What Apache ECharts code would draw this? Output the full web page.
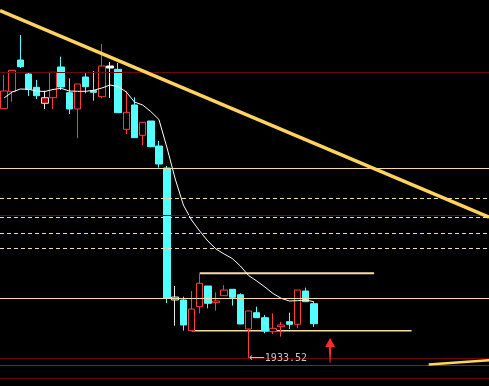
<!DOCTYPE html>
<html><head><meta charset="utf-8">
<script src="https://cdn.jsdelivr.net/npm/echarts@6/dist/echarts.min.js"></script>
<style>html,body{margin:0;padding:0;background:#000;}#c{width:489px;height:386px;}</style>
</head><body><div id="c"></div>
<script>
// ---- data ----
const slotCount = 60;
const categories = Array.from({length: slotCount}, (_, i) => 'K' + (i + 1));
const opens  = [2058.15,2066.65,2082.5,2075.5,2068.85,2063.65,2063.65,2079.0,2066.15,2058.0,2074.0,2067.15,2064.15,2079.5,2077.85,2047.85,2060.0,2044.85,2052.0,2039.5,2028.5,1964.0,1962.5,1947.15,1959.15,1969.5,1961.15,1964.65,1967.85,1965.15,1948.0,1956.15,1953.65,1946.65,1949.15,1951.65,1950.35,1967.0,1960.65];
const closes = [2067.0,2077.35,2079.15,2067.85,2064.65,2060.85,2076.35,2069.0,2058.0,2070.5,2069.15,2066.35,2079.5,2078.5,2056.15,2056.35,2043.65,2051.35,2039.15,2030.5,1963.5,1962.5,1950.0,1958.0,1970.85,1960.85,1962.0,1967.5,1963.85,1950.5,1957.0,1953.65,1947.0,1948.35,1950.0,1950.35,1967.5,1961.65,1950.65];
const lows   = [2058.0,2061.65,2078.5,2064.5,2063.0,2058.0,2058.0,2067.5,2055.5,2043.5,2065.85,2062.15,2063.35,2063.5,2056.15,2045.5,2043.65,2040.0,2038.85,2028.65,1961.0,1949.65,1947.15,1947.15,1955.85,1958.35,1957.15,1964.65,1959.65,1950.5,1933.52,1953.65,1945.85,1945.5,1944.15,1948.0,1948.35,1961.65,1949.0];
const highs  = [2075.0,2077.5,2095.0,2076.5,2072.5,2067.15,2076.35,2084.15,2073.35,2070.5,2075.85,2077.0,2090.5,2081.5,2081.0,2067.15,2063.85,2051.35,2052.0,2042.0,2029.5,1969.5,1964.15,1967.0,1975.85,1969.5,1966.35,1970.0,1967.85,1965.85,1957.0,1959.15,1955.0,1955.85,1951.65,1956.15,1967.5,1968.65,1961.65];
const maLine = [2063.5,2066.5,2068.0,2067.85,2067.0,2066.75,2067.75,2068.35,2067.0,2066.85,2066.85,2067.35,2068.5,2070.0,2069.25,2066.5,2061.5,2060.0,2056.75,2052.75,2038.5,2023.0,2010.0,2002.5,1997.0,1992.0,1988.0,1985.5,1983.25,1979.5,1974.75,1972.0,1969.0,1965.75,1963.35,1962.0,1962.15,1962.5,1961.65];
const darkMarks = [5, 21];      // dark-red bodies with white frame
const whiteMarks = [13];        // white doji
const lowIndex = 30;            // candle of the marked low
const signalIndex = 40;         // red arrow slot
const signalPrice = 1937.25;
const mainTrend = [[-0.5, 2107.2], [59.5, 2003.9]];
const lowerTrend = [[52.1, 1930.25], [59.5, 1932.4]];
const upperBox = [[24, 1975.85], [45.4, 1975.85]];
const lowerBox = [[23, 1947.15], [50.0, 1947.15]];
const solidLevels = [2028.35, 1963.5];
const dashedLevels = [2013.35, 2003.85, 1995.85, 1988.35];
const darkRedLevels = [2076.5, 2004.85, 1933.5, 1923.5];
const redLevels = [1929.85];
const yMin = 1919.5, yMax = 2112.5;

// ---- build ----
const UP = '#ff3c3c', DOWN = '#54ffff', BEIGE = '#f8dca6', GOLD = '#ffd35e';
const candleData = opens.map((o, i) => {
  const item = { value: [o, closes[i], lows[i], highs[i]] };
  if (darkMarks.includes(i)) item.itemStyle = { color: '#a00000', color0: '#a00000', borderColor: '#e8e8e8', borderColor0: '#e8e8e8' };
  if (whiteMarks.includes(i)) item.itemStyle = { color: '#ffffff', color0: '#ffffff', borderColor: '#ffffff', borderColor0: '#ffffff' };
  return item;
});
const levelLines = [];
solidLevels.forEach(v => levelLines.push({ yAxis: v, lineStyle: { color: BEIGE, width: 1, type: 'solid' } }));
dashedLevels.forEach(v => levelLines.push({ yAxis: v, lineStyle: { color: BEIGE, width: 1, type: [4, 3] } }));
darkRedLevels.forEach(v => levelLines.push({ yAxis: v, lineStyle: { color: '#6a0808', width: 1, type: 'solid' } }));
redLevels.forEach(v => levelLines.push({ yAxis: v, lineStyle: { color: '#a01515', width: 1, type: 'solid' } }));

const chart = echarts.init(document.getElementById('c'));
chart.setOption({
  backgroundColor: '#000',
  animation: false,
  grid: { left: -1, right: -3, top: 0, bottom: 0 },
  xAxis: [
    { type: 'category', data: categories, show: false, boundaryGap: true },
    { type: 'value', min: -0.5, max: slotCount - 0.5, show: false }
  ],
  yAxis: { type: 'value', min: yMin, max: yMax, show: false, splitLine: { show: false } },
  series: [
    {
      type: 'line', xAxisIndex: 0, data: [], silent: true, z: 1,
      markLine: { silent: true, symbol: 'none', label: { show: false }, data: levelLines, animation: false }
    },
    { type: 'line', xAxisIndex: 1, data: upperBox, symbol: 'none', lineStyle: { color: BEIGE, width: 2 }, z: 2 },
    { type: 'line', xAxisIndex: 1, data: lowerBox, symbol: 'none', lineStyle: { color: BEIGE, width: 1.5 }, z: 2 },
    {
      type: 'candlestick', xAxisIndex: 0, data: candleData, barWidth: 7, z: 3,
      itemStyle: { color: '#000', color0: DOWN, borderColor: UP, borderColor0: DOWN, borderWidth: 1 },
      markPoint: {
        silent: true, animation: false,
        data: [
          { coord: [lowIndex, lows[lowIndex]], symbol: 'rect', symbolSize: 1, itemStyle: { color: 'rgba(0,0,0,0)' },
            label: { show: true, position: 'right', distance: 0, color: '#c4c4c4',
              formatter: () => '{a|\u27F5}{b|' + lows[lowIndex].toFixed(2) + '}',
              rich: { a: { fontFamily: 'DejaVu Sans', fontSize: 11, color: '#c4c4c4' },
                      b: { fontFamily: 'DejaVu Sans Mono', fontSize: 10, color: '#c4c4c4' } } } },
          { coord: [signalIndex, signalPrice], symbol: 'path://M5,0 L10,9 L6.3,9 L5.4,25 L4.6,25 L3.7,9 L0,9 Z',
            symbolSize: [10, 25], itemStyle: { color: '#ff2a2a' }, label: { show: false } }
        ]
      }
    },
    { type: 'line', xAxisIndex: 0, data: maLine, symbol: 'none', lineStyle: { color: '#ffffff', width: 1 }, z: 4 },
    { type: 'line', xAxisIndex: 1, data: mainTrend, symbol: 'none', lineStyle: { color: GOLD, width: 3.5 }, z: 5 },
    { type: 'line', xAxisIndex: 1, data: lowerTrend, symbol: 'none', lineStyle: { color: GOLD, width: 2.5 }, z: 5 }
  ]
});
</script>
</body></html>
